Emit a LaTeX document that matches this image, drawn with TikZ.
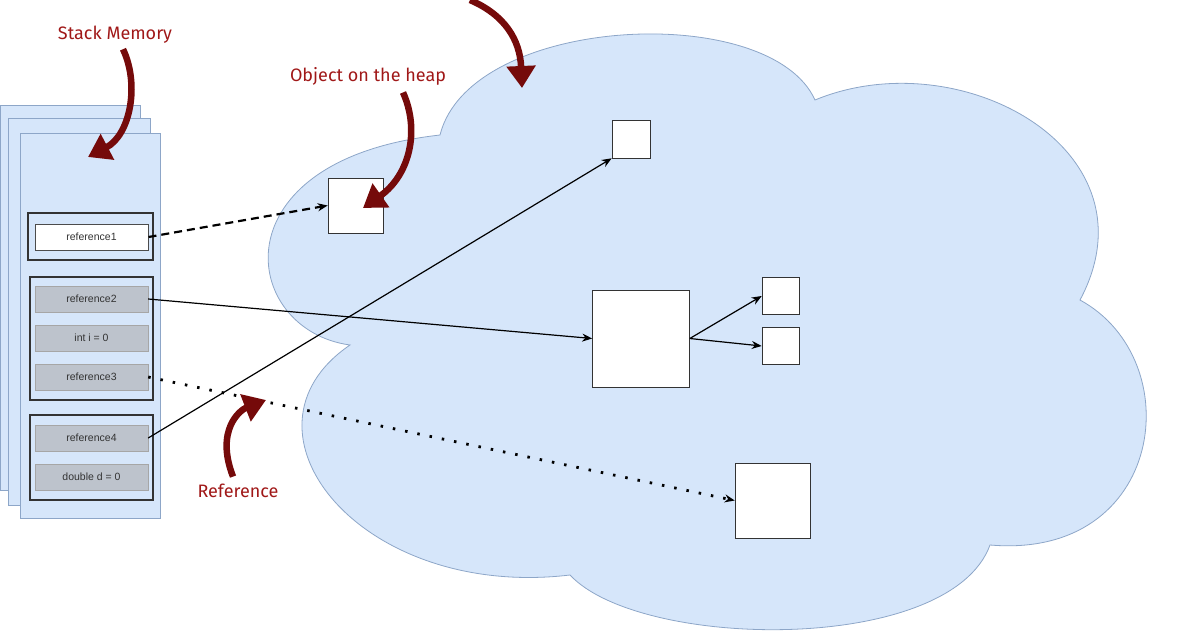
\documentclass[tikz,border=0pt]{standalone}
\usepackage{fontspec}
\setmainfont{Liberation Sans}
\newfontfamily\lblfont{Fira Sans}
\usetikzlibrary{arrows.meta}
\definecolor{cloudfill}{HTML}{D6E6FA}
\definecolor{cloudline}{HTML}{8DA6C8}
\definecolor{darkred}{HTML}{750A0A}
\definecolor{lblred}{HTML}{A01818}
\definecolor{grayitem}{HTML}{BDC3CC}
\begin{document}
\begin{tikzpicture}[x=1pt,y=-1pt,
  page/.style={draw=cloudline,fill=cloudfill,line width=0.8pt},
  frame/.style={draw=black!80,line width=1.2pt},
  item/.style={draw=gray!70,fill=grayitem,minimum width=113pt,minimum height=26pt,inner sep=0pt,font=\fontsize{10.5}{12}\selectfont,text=black!80},
  obj/.style={draw=black!80,fill=white,inner sep=0pt,line width=0.6pt},
  conn/.style={line width=1.2pt,-{Stealth[length=10pt,width=8pt]}},
  curly/.style={darkred,line width=6.5pt,-{Triangle[length=22pt,width=28pt]}},
  lbl/.style={lblred,font=\lblfont\fontsize{18}{20}\selectfont}]
\useasboundingbox (0,0) rectangle (1200,630);
% cloud
\draw[fill=cloudfill,draw=cloudline,line width=0.8pt]
 (350,345) .. controls (240,330) and (215,160) .. (440,135)
 .. controls (470,15) and (770,0) .. (815,100)
 .. controls (960,40) and (1160,150) .. (1080,300)
 .. controls (1190,360) and (1165,560) .. (990,545)
 .. controls (950,655) and (640,650) .. (570,575)
 .. controls (360,600) and (225,430) .. (350,345) -- cycle;
% stack pages
\draw[page] (0,105) rectangle (140,490);
\draw[page] (8,118) rectangle (150,505);
\draw[page] (20,133) rectangle (160,518);
\draw[frame] (28,213) rectangle (153,260);
\draw[frame] (30,277) rectangle (153,400);
\draw[frame] (30,415) rectangle (153,500);
\node[item,fill=white,draw=black!70,line width=1pt] (r1) at (91.5,237) {reference1};
\node[item] (r2) at (91.5,299) {reference2};
\node[item] (ii) at (91.5,338) {int i = 0};
\node[item] (r3) at (91.5,377) {reference3};
\node[item] (r4) at (91.5,438) {reference4};
\node[item] (dd) at (91.5,477) {double d = 0};
% heap objects
\node[obj,minimum size=55pt] (A) at (355.5,205.5) {};
\node[obj,minimum size=38pt] (B) at (631,139) {};
\node[obj,minimum size=97pt] (C) at (641,338.5) {};
\node[obj,minimum size=37pt] (D) at (780.5,296) {};
\node[obj,minimum size=37pt] (E) at (780.5,346) {};
\node[obj,minimum size=75pt] (F) at (772.5,500.5) {};
% connectors
\draw[conn,dash pattern=on 8pt off 5pt,line width=2.2pt] (r1.east) -- (A.west);
\draw[conn] (r2.east) -- (C.west);
\draw[conn,dash pattern=on 2.5pt off 10pt,line width=2.8pt] (r3.east) -- (F.west);
\draw[conn] (r4.east) -- (B.south west);
\draw[conn] (C.east) -- (D.west);
\draw[conn] (C.east) -- (E.west);
% labels and curly arrows
\node[lbl] (lsm) at (115,35) {Stack Memory};
\node[lbl] (loh) at (368,76) {Object on the heap};
\node[lbl] (lref) at (238,491) {Reference};
\coordinate (t0) at (470,0);
\draw[curly] (lsm.south) ++(8,2) .. controls (140,85) and (130,135) .. (88,157);
\draw[curly] (loh.south) ++(35,4) .. controls (420,130) and (410,175) .. (363,208);
\draw[curly] (lref.north) ++(-5,-4) .. controls (215,430) and (240,410) .. (266,400);
\draw[curly] (t0) .. controls (505,15) and (520,40) .. (522,88);
\end{tikzpicture}
\end{document}
